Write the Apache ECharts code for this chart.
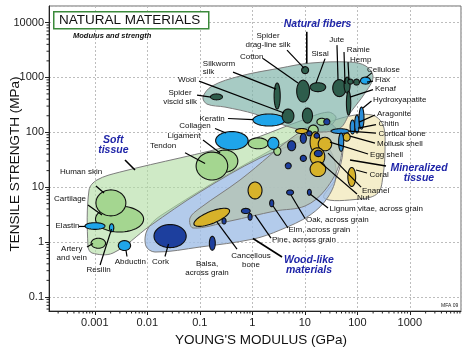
<!DOCTYPE html>
<html><head><meta charset="utf-8">
<script src="https://cdn.jsdelivr.net/npm/echarts@6/dist/echarts.min.js"></script>
<style>html,body{margin:0;padding:0;background:#fff}#c{width:467px;height:350px}</style>
</head><body><div id="c"></div>
<script>
// ---------- DATA (Young's modulus E in GPa, tensile strength S in MPa) ----------
// each material: [name, Emin, Emax, Smin, Smax]
const softGreen = [
  ['Cartilage', 0.00103, 0.0085, 1.52, 4.5],
  ['Human skin', 0.00105, 0.0039, 3.0, 8.9],
  ['Artery and vein', 0.00085, 0.0016, 0.77, 1.17],
  ['Ligament', 0.17, 0.53, 18.8, 47.4],
  ['Tendon', 0.085, 0.34, 13.5, 43.6],
  ['', 0.84, 2.0, 50, 79],
  ['', 2.57, 3.5, 38, 54],
  ['', 17, 26, 134, 180],
  ['', 11.7, 18, 89, 135]
];
const lightBlue = [
  ['Elastin', 0.00065, 0.00156, 1.7, 2.25],
  ['Resilin', 0.0019, 0.0023, 1.54, 2.15],
  ['Abductin', 0.0028, 0.0048, 0.70, 1.06],
  ['Collagen', 0.2, 0.83, 48, 103],
  ['Keratin', 1.03, 4.2, 130, 215],
  ['', 1.97, 3.2, 49, 81],
  ['Cellulose', 115, 178, 755, 1010]
];
const yellowMats = [
  ['Cancellous bone', 0.073, 0.39, 2.19, 3.62],
  ['', 0.83, 1.53, 6.1, 12.4],
  ['', 6.7, 11.4, 95, 117],
  ['', 12.6, 19.5, 44, 102],
  ['', 18, 32.5, 46, 81],
  ['', 12.6, 24, 25, 52],
  ['', 12.6, 25, 15.6, 29],
  ['Mollusk shell', 54, 73, 69, 97],
  ['Coral', 66, 93, 10.3, 22.8]
];
const mineralBlue = [
  ['Cortical bone', 31.6, 70, 95, 116],
  ['Cortical bone', 44, 55, 45, 97],
  ['Chitin', 73, 90, 93, 167],
  ['Aragonite', 89, 109, 97, 206],
  ['Hydroxyapatite', 108, 134, 114, 288]
];
const fiberTeal = [
  ['Spider viscid silk', 0.16, 0.27, 390, 500],
  ['Silkworm silk', 2.6, 3.4, 265, 790],
  ['Wool', 3.7, 6.2, 147, 265],
  ['Cotton', 7, 12.3, 355, 890],
  ['Sisal', 12.6, 25, 550, 800],
  ['Spider drag-line silk', 8.7, 11.8, 1170, 1570],
  ['', 9, 14, 147, 276],
  ['Jute', 34, 61, 447, 910],
  ['Ramie', 56, 73, 520, 1010],
  ['Hemp', 66, 83, 755, 930],
  ['Flax', 85, 110, 724, 930],
  ['Kenaf', 62, 75, 206, 560]
];
const woodBlue = [
  ['Cork', 0.0134, 0.055, 0.79, 2.08],
  ['Balsa, across grain', 0.152, 0.197, 0.71, 1.27],
  ['', 0.265, 0.316, 2.13, 2.74],
  ['Pine, across grain', 0.62, 0.91, 3.3, 4.1],
  ['', 0.83, 0.99, 2.5, 3.3],
  ['Elm, across grain', 2.14, 2.56, 4.4, 5.9],
  ['Oak, across grain', 4.5, 6.1, 7.2, 8.9],
  ['Lignum vitae, across grain', 11.2, 13.3, 7.1, 9.1],
  ['', 4.7, 6.7, 46, 70],
  ['', 8.2, 10.7, 63, 95],
  ['', 10.9, 13.6, 86, 106],
  ['', 15, 19, 78, 96],
  ['', 15.2, 21.5, 36, 47],
  ['', 8.2, 10.7, 29.5, 38],
  ['', 4.25, 5.5, 21.6, 27.8],
  ['', 23, 30, 137, 176]
];

// family envelopes: outline vertices [E, S]
const mineralEnv = [[17.8,119],[58.3,189],[191,206],[309,135],[337,47.4],[309,16.6],[248,7.81],[112,6.07],[23.2,6.33],[39.3,14.6],[53.4,47.4],[42.9,101]];
const woodEnv = [[0.0099,1.65],[0.0175,2.98],[1.53,38.4],[12.6,92.7],[30.2,47.4],[39.3,16.6],[27.7,6.61],[12.6,3.1],[3.37,1.65],[1.03,1.13],[0.101,0.811],[0.014,0.657],[0.0094,0.846]];
const softTissueEnv = [[0.0011,13.5],[0.0030,18.8],[0.583,63.6],[8.1,160],[27.7,233],[39.3,181],[21.3,101],[1.40,33.9],[0.101,8.15],[0.0112,1.96],[0.00222,0.63],[0.000885,0.63],[0.00074,0.846],[0.000776,8.85]];
const woodGrainEnv = [[0.065,2.74],[0.101,4.16],[0.583,13.5],[8.1,101],[25.3,153],[46.8,89],[46.8,28.6],[24.3,8.85],[10.1,4.53],[2.71,3.67],[0.376,2.41],[0.0742,1.80]];
const fibersEnv = [[0.115,438],[0.171,695],[0.583,1057],[3.37,1476],[12.6,1820],[72.6,1900],[146,1607],[199,1012],[140,518],[72.6,224],[46.8,119],[17.8,101],[5.22,124],[1.13,215],[0.302,288],[0.137,326]];

// ---------- LAYOUT / STYLE (not data) ----------
const tiltDeg = {'Cancellous bone': 22};
const envList = [
  {pts: mineralEnv, fill: 'rgba(244,237,200,0.95)'},
  {pts: woodEnv, fill: 'rgba(160,190,230,0.8)'},
  {pts: softTissueEnv, fill: 'rgba(175,220,160,0.6)'},
  {pts: woodGrainEnv, fill: 'rgba(180,195,180,0.8)'},
  {pts: fibersEnv, fill: 'rgba(125,178,168,0.68)'}
];
const matGroups = [
  {mats: softGreen, fill: '#a4d690'},
  {mats: lightBlue, fill: '#1fa5ea'},
  {mats: yellowMats, fill: '#d7b22a'},
  {mats: mineralBlue, fill: '#2a8ed8'},
  {mats: fiberTeal, fill: '#2e5d4c'},
  {mats: woodBlue, fill: '#1d3f9e'}
];
// labels: text, anchor [E,S], align, leader [E1,S1,E2,S2]
const labels = [
  ['Human skin', [0.000546, 18.8], 'center', [0.00105,10.5,0.0015,7.81]],
  ['Cartilage', [0.000337, 6.07], 'center', [0.00074,4.72,0.00137,3.1]],
  ['Elastin', [0.000302, 2.0], 'center', [0.0005,1.92,0.000665,1.92]],
  ['Artery\nand vein', [0.000363, 0.63], 'center', [0.00071,0.811,0.000925,0.94]],
  ['Resilin', [0.00118, 0.309], 'center', [0.00126,0.381,0.00208,1.72]],
  ['Abductin', [0.00475, 0.438], 'center', [0.0041,0.544,0.00393,0.70]],
  ['Cork', [0.0178, 0.432], 'center', [0.0217,0.544,0.0253,0.92]],
  ['Balsa,\nacross grain', [0.137, 0.336], 'center', null],
  ['Cancellous\nbone', [0.944, 0.47], 'center', [0.511,0.745,0.213,2.31]],
  ['Pine, across grain', [2.37, 1.11], 'left', [2.27,1.18,1.13,3.1]],
  ['Elm, across grain', [4.89, 1.69], 'left', [4.79,1.80,2.48,4.53]],
  ['Oak, across grain', [10.5, 2.52], 'left', [10.1,2.68,5.46,7.18]],
  ['Lignum vitae, across grain', [29.5, 3.99], 'left', [27.7,4.16,12.6,7.48]],
  ['Nut', [98.7, 6.47], 'left', [98.7,7.48,19.5,28.6]],
  ['Enamel', [123, 8.6], 'left', [118,10,27.7,41.8]],
  ['Coral', [171, 16.6], 'left', [153,18.1,94.4,20.5]],
  ['Egg shell', [175, 38.4], 'left', [160,40.1,30.2,66.3]],
  ['Mollusk shell', [237, 61], 'left', [217,63.6,72.6,85.3]],
  ['Cortical bone', [253, 94.7], 'left', [227,96.7,69.5,105]],
  ['Chitin', [253, 144], 'left', [227,138,103,119]],
  ['Aragonite', [237, 215], 'left', [217,206,108,153]],
  ['Hydroxyapatite', [199, 386], 'left', [186,370,128,276]],
  ['Kenaf', [217, 612], 'left', [199,599,72.6,438]],
  ['Flax', [217, 893], 'left', [199,857,153,821]],
  ['Cellulose', [153, 1387], 'left', [191,1222,146,991]],
  ['Hemp', [72.6, 2065], 'left', [66.5,1900,69.5,893]],
  ['Ramie', [62.8, 3141], 'left', [55.8,2890,58.3,755]],
  ['Jute', [40.5, 4780], 'center', [41,3874,42.9,893]],
  ['Sisal', [19.5, 2735], 'center', [24.3,2199,16.3,787]],
  ['Spider\ndrag-line silk', [1.99, 4780], 'center', [4.58,3141,9.66,1476]],
  ['Cotton', [0.974, 2373], 'center', [1.6,2199,7.42,787]],
  ['Silkworm\nsilk', [0.114, 1508], 'left', [0.429,1250,2.83,612]],
  ['Wool', [0.0385, 893], 'left', [0.0966,857,4.02,224]],
  ['Spider\nviscid silk', [0.042, 438], 'center', [0.0885,476,0.163,438]],
  ['Keratin', [0.171, 179], 'center', [0.344,178,1.03,170]],
  ['Collagen', [0.081, 130], 'center', [0.195,117,0.316,96.7]],
  ['Ligament', [0.05, 85.3], 'center', [0.115,72.1,0.243,41.8]],
  ['Tendon', [0.0199, 56.1], 'center', [0.0523,42.3,0.126,26.9]]
];
const groupLabels = [
  ['Soft\ntissue', [0.00225, 58.5], [0.00376,31.2,0.00583,20.5]],
  ['Natural fibers', [17.5, 9350], [10.9,6775,10.9,1800]],
  ['Mineralized\ntissue', [1496, 18.1], [352,24.2,72.6,31.2]],
  ['Wood-like\nmaterials', [12, 0.381], [3.68,0.533,1.03,1.16]]
];

const X_MIN = 0.000134, X_MAX = 9440, Y_MIN = 0.0553, Y_MAX = 20000;
const FONT = '"Liberation Sans", Arial, sans-serif';

function fmtPow(v) {
  const l = Math.log10(v), e = Math.round(l);
  if (Math.abs(l - e) > 1e-6) return '';
  return e >= 0 ? String(Math.pow(10, e)) : (0).toFixed(-e).slice(0, -1) + '1';
}
function ellipsePts(api, m) {
  const p1 = api.coord([m[1], m[3]]), p2 = api.coord([m[2], m[4]]);
  const cx = (p1[0] + p2[0]) / 2, cy = (p1[1] + p2[1]) / 2;
  const rx = Math.abs(p2[0] - p1[0]) / 2, ry = Math.abs(p2[1] - p1[1]) / 2;
  const t = -(tiltDeg[m[0]] || 0) * Math.PI / 180;
  const pts = [];
  for (let i = 0; i < 60; i++) {
    const a = i / 60 * 2 * Math.PI, x = rx * Math.cos(a), y = ry * Math.sin(a);
    pts.push([cx + x * Math.cos(t) - y * Math.sin(t), cy + x * Math.sin(t) + y * Math.cos(t)]);
  }
  return pts;
}
const series = [];
series.push({
  type: 'custom', coordinateSystem: 'cartesian2d', silent: true, z: 1,
  data: envList.map(e => e.pts[0]),
  renderItem: (params, api) => {
    const e = envList[params.dataIndex];
    return {type: 'polygon', shape: {points: e.pts.map(p => api.coord(p)), smooth: 0.35},
      style: {fill: e.fill, stroke: '#7d7d7d', lineWidth: 1}};
  }
});
matGroups.forEach((g, gi) => {
  series.push({
    type: 'custom', coordinateSystem: 'cartesian2d', silent: true, z: 2 + gi * 0.01,
    data: g.mats.map(m => [Math.sqrt(m[1] * m[2]), Math.sqrt(m[3] * m[4])]),
    renderItem: (params, api) => ({type: 'polygon', shape: {points: ellipsePts(api, g.mats[params.dataIndex])},
      style: {fill: g.fill, stroke: '#101010', lineWidth: 1.1}})
  });
});
function leaderEl(api, L, w) {
  const a = api.coord([L[0], L[1]]), b = api.coord([L[2], L[3]]);
  return {type: 'line', shape: {x1: a[0], y1: a[1], x2: b[0], y2: b[1]}, style: {stroke: '#000', lineWidth: w}};
}
series.push({
  type: 'custom', coordinateSystem: 'cartesian2d', silent: true, z: 3,
  data: labels.map(l => l[1]),
  renderItem: (params, api) => {
    const l = labels[params.dataIndex], p = api.coord(l[1]);
    const ch = [];
    if (l[3]) ch.push(leaderEl(api, l[3], 1.2));
    ch.push({type: 'text', x: p[0], y: p[1], style: {text: l[0], fontSize: 8, fontFamily: FONT,
      fill: '#111', align: l[2], verticalAlign: 'middle', lineHeight: 8.6}});
    return {type: 'group', children: ch};
  }
});
series.push({
  type: 'custom', coordinateSystem: 'cartesian2d', silent: true, z: 3,
  data: groupLabels.map(l => l[1]),
  renderItem: (params, api) => {
    const l = groupLabels[params.dataIndex], p = api.coord(l[1]);
    return {type: 'group', children: [leaderEl(api, l[2], 1.6),
      {type: 'text', x: p[0], y: p[1], style: {text: l[0], fontSize: 10.5, fontFamily: FONT, fontWeight: 'bold',
        fontStyle: 'italic', fill: '#1f25a8', align: 'center', verticalAlign: 'middle', lineHeight: 10.5}}]};
  }
});
// log minor ticks along both axes
series.push({
  type: 'custom', coordinateSystem: 'cartesian2d', silent: true, z: 4,
  data: [[1, 1]],
  renderItem: (params, api) => {
    const ch = [];
    for (let d = -5; d <= 4; d++) for (let k = 2; k <= 9; k++) {
      const v = k * Math.pow(10, d);
      if (v > X_MIN && v < X_MAX) { const p = api.coord([v, Y_MIN]);
        ch.push({type: 'line', shape: {x1: p[0], y1: p[1], x2: p[0], y2: p[1] + 2.5}, style: {stroke: '#222', lineWidth: 1}}); }
      if (v > Y_MIN && v < Y_MAX) { const p = api.coord([X_MIN, v]);
        ch.push({type: 'line', shape: {x1: p[0], y1: p[1], x2: p[0] - 2.5, y2: p[1]}, style: {stroke: '#222', lineWidth: 1}}); }
    }
    return {type: 'group', children: ch};
  }
});

const chart = echarts.init(document.getElementById('c'), null, {renderer: 'canvas'});
chart.setOption({
  animation: false,
  backgroundColor: '#fff',
  grid: {left: 49, right: 6, top: 6, bottom: 39, show: true, borderColor: '#6a6a6a', borderWidth: 1,
    containLabel: false, outerBoundsMode: 'none'},
  xAxis: {
    type: 'log', logBase: 10, min: X_MIN, max: X_MAX,
    name: "YOUNG'S MODULUS (GPa)", nameLocation: 'middle', nameGap: 22, nameMoveOverlap: false,
    nameTextStyle: {fontFamily: FONT, fontSize: 13.5, color: '#111', padding: [0, 0, 0, 12]},
    axisLine: {lineStyle: {color: '#222', width: 1}},
    axisTick: {length: 4, lineStyle: {color: '#222'}},
    axisLabel: {formatter: fmtPow, fontFamily: FONT, fontSize: 11, color: '#1a1a1a', margin: 6, showMinLabel: false, showMaxLabel: false},
    splitLine: {show: true, lineStyle: {color: '#bdbdbd', type: [2, 2], width: 1}}
  },
  yAxis: {
    type: 'log', logBase: 10, min: Y_MIN, max: Y_MAX,
    name: 'TENSILE STRENGTH (MPa)', nameLocation: 'middle', nameGap: 27, nameMoveOverlap: false,
    nameTextStyle: {fontFamily: FONT, fontSize: 13.5, color: '#111', padding: [0, 11, 0, 0]},
    axisLine: {lineStyle: {color: '#222', width: 1}},
    axisTick: {length: 4, lineStyle: {color: '#222'}},
    axisLabel: {formatter: fmtPow, fontFamily: FONT, fontSize: 11, color: '#1a1a1a', margin: 5, showMinLabel: false, showMaxLabel: false},
    splitLine: {show: true, lineStyle: {color: '#bdbdbd', type: [2, 2], width: 1}}
  },
  graphic: [
    {type: 'rect', left: 53, top: 11, shape: {width: 155, height: 17}, style: {fill: '#fff', stroke: '#3b8a3b', lineWidth: 1.5}, z: 10},
    {type: 'text', left: 59, top: 13.5, style: {text: 'NATURAL MATERIALS', fontFamily: FONT, fontSize: 13.5, fill: '#111'}, z: 11},
    {type: 'text', left: 73, top: 32, style: {text: 'Modulus and strength', fontFamily: FONT, fontSize: 7.5, fontStyle: 'italic', fontWeight: 'bold', fill: '#111'}, z: 11},
    {type: 'text', left: 441, top: 303, style: {text: 'MFA 09', fontFamily: FONT, fontSize: 5, fill: '#222'}, z: 11}
  ],
  series: series
});
</script></body></html>
